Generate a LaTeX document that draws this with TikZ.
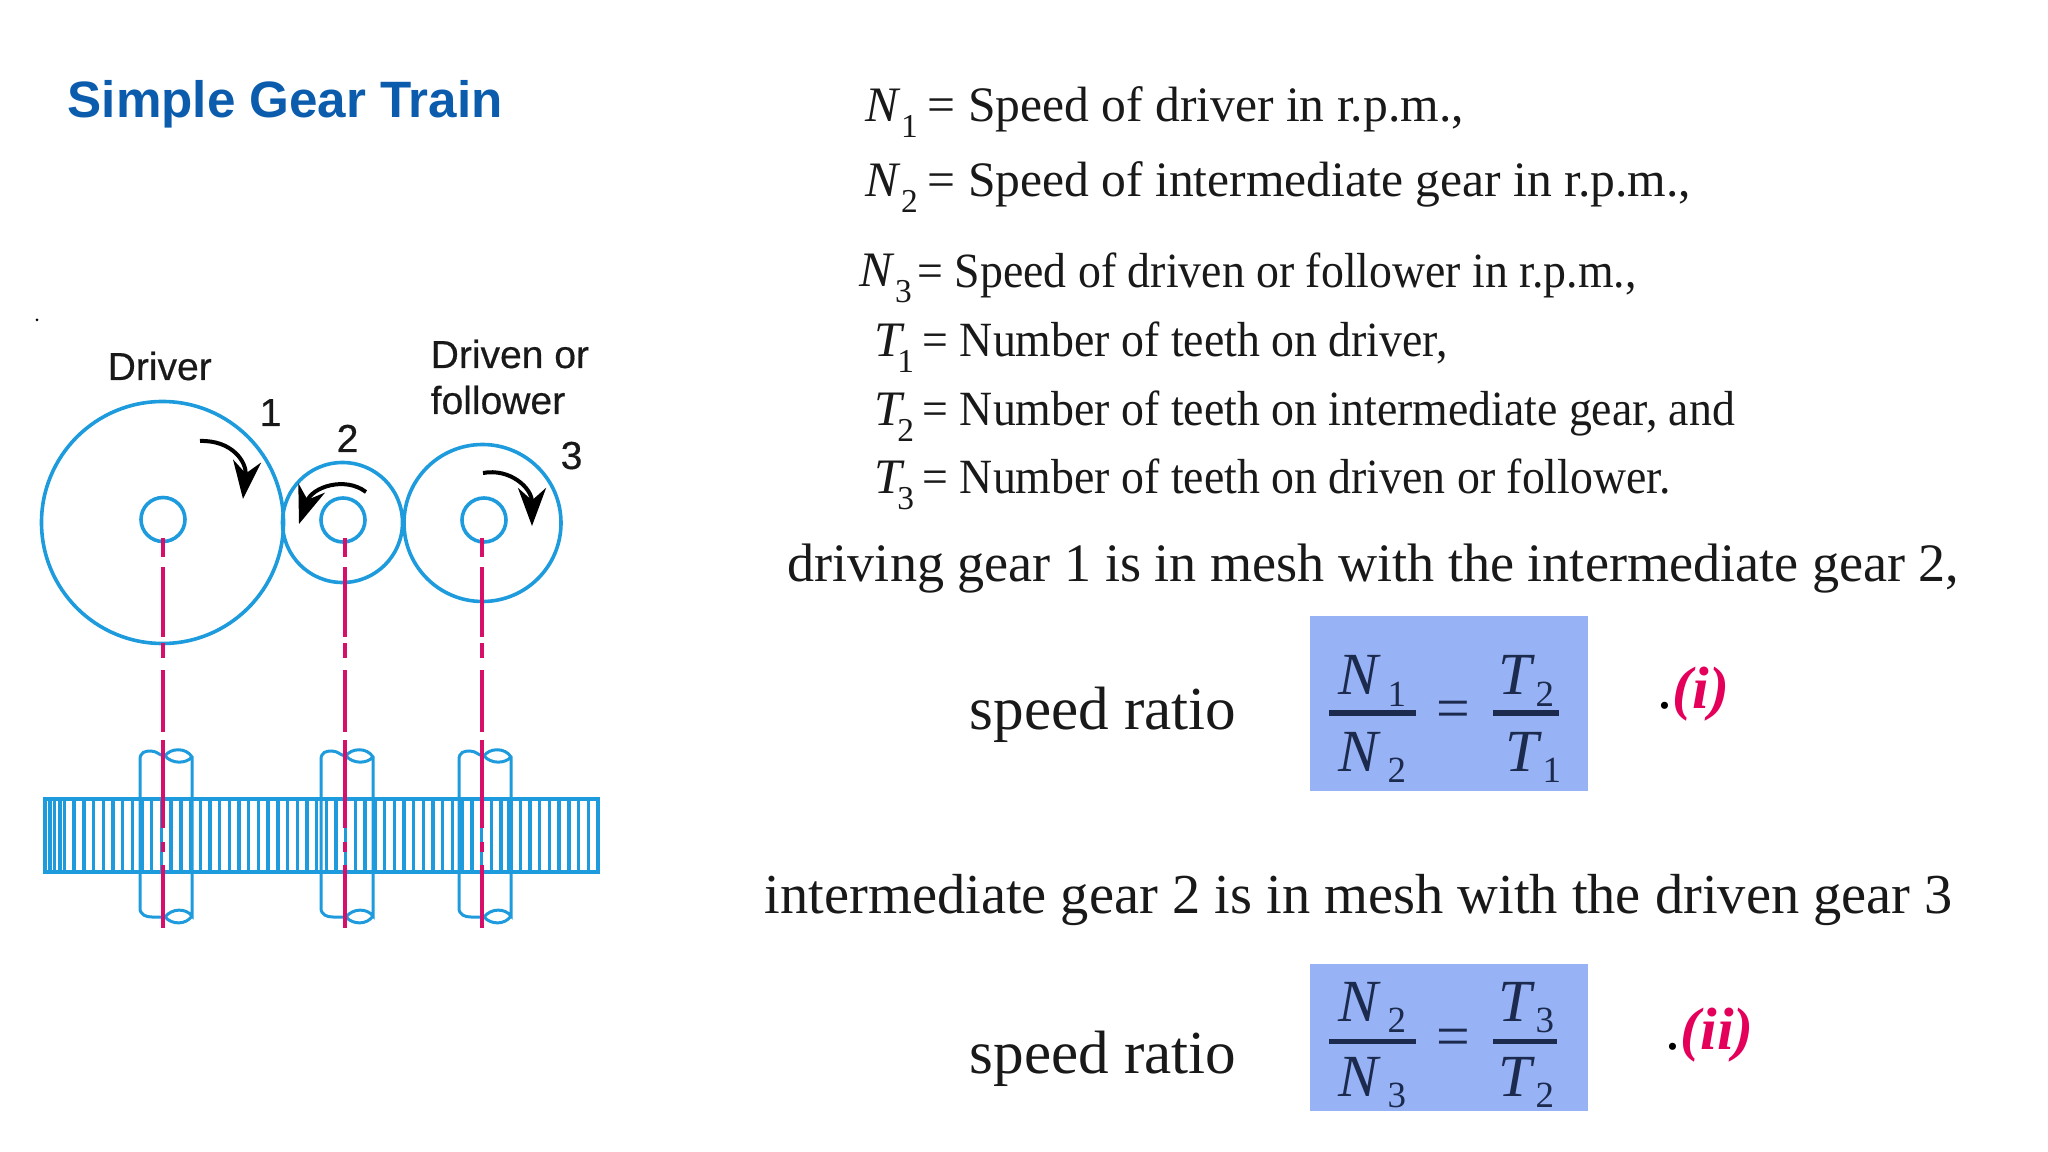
\documentclass[tikz,border=0pt]{standalone}
\usepackage{fontspec}
\setmainfont{Liberation Serif}
\newfontfamily\titleFont{Liberation Sans}
\newfontfamily\labelFont[FakeBold=.4]{Liberation Sans}
\newfontfamily\narrowFont[FakeStretch=.93]{Liberation Serif}
\usetikzlibrary{arrows.meta}
\definecolor{gearColor}{RGB}{30,155,220}
\definecolor{axisColor}{RGB}{214,16,106}
\definecolor{boxColor}{RGB}{151,179,245}
\definecolor{titleColor}{RGB}{11,92,173}
\definecolor{ratioInk}{RGB}{28,42,78}
\definecolor{tagColor}{RGB}{228,0,90}
\tikzstyle{sheet} = [x = .01cm, y = -.01cm]
\tikzstyle{gearLine} = [color=gearColor, line width=.036cm]
\tikzstyle{shaftLine} = [color=gearColor, line width=.03cm]
\tikzstyle{toothLine} = [color=gearColor, line width=.034cm]
\tikzstyle{axisLine} = [color=axisColor, line width=.04cm, dash pattern=on .19cm off .1cm on .7cm off .06cm on .15cm off .12cm on .62cm off .08cm on .88cm off .14cm on .1cm off .13cm on .63cm off .09cm on .03cm off .1cm]
\tikzstyle{turnArrow} = [black, line width=.04cm, -{Stealth[length=.38cm, width=.28cm]}]
\tikzstyle{gearText} = [font=\labelFont\fontsize{11.1}{13}\selectfont, inner sep=0, anchor=base west, text=black!90]
\tikzstyle{bodyText} = [font=\fontsize{14.1}{16}\selectfont, inner sep=0, anchor=base west, text=black!90]
\tikzstyle{narrowText} = [font=\narrowFont\fontsize{14}{16}\selectfont, inner sep=0, anchor=base west, text=black!90]
\tikzstyle{wideText} = [font=\fontsize{15.4}{18}\selectfont, inner sep=0, anchor=base west, text=black!90]
\tikzstyle{ratioText} = [font=\fontsize{17}{20}\selectfont, inner sep=0, anchor=base west, text=ratioInk]
\tikzstyle{fracBar} = [color=ratioInk, line width=.05cm]
\tikzstyle{tagText} = [font=\fontsize{17}{20}\selectfont\bfseries\itshape, inner sep=0, anchor=base west, text=tagColor]
\newcommand{\symSub}[2]{\textit{#1}\raisebox{-.32em}{\fontsize{9.5}{12}\selectfont #2}}
\newcommand{\ratioSub}[2]{\textit{#1}\raisebox{-.2em}{\fontsize{10.5}{12}\selectfont #2}}
\newcommand{\gear}[5]{
  \draw [gearLine] (#1, #2) circle [radius=#3];
  \draw [gearLine] (#4, #5) circle [radius=22];
}
\newcommand{\shaft}[1]{
  \draw [shaftLine] (#1, 762) -- (#1, 760) .. controls (#1, 752) and (#1 + 5, 751) .. (#1 + 11, 751) .. controls (#1 + 17, 751) and (#1 + 20, 756) .. (#1 + 25, 756) .. controls (#1 + 30, 748) and (#1 + 46, 747) .. (#1 + 52, 757) -- (#1 + 52, 910);
  \draw [shaftLine] (#1 + 25, 756) .. controls (#1 + 32, 764) and (#1 + 46, 764) .. (#1 + 52, 757);
  \draw [shaftLine] (#1, 762) -- (#1, 908) .. controls (#1, 915) and (#1 + 6, 917) .. (#1 + 12, 917) -- (#1 + 25, 917) .. controls (#1 + 32, 908) and (#1 + 46, 908) .. (#1 + 52, 916) -- (#1 + 52, 910);
  \draw [shaftLine] (#1 + 25, 917) .. controls (#1 + 32, 925) and (#1 + 46, 925) .. (#1 + 52, 916);
}
\newcommand{\ratioBox}[9]{
  \fill [boxColor] (1310, #1) rectangle (1588, #2);
  \node [ratioText] (numer#3) at (1338, #4) {\ratioSub{N}{\,#5}};
  \node [ratioText] (denom#3) at (1338, #8) {\ratioSub{N}{\,#6}};
  \draw [fracBar] (1329, #9) -- (1416, #9);
  \node [ratioText] (equal#3) at (1436, #9 + 15) {=};
  \node [ratioText] (upper#3) at (1498, #4) {\ratioSub{T}{#7}};
}
\begin{document}
\begin{tikzpicture}[sheet]
  \useasboundingbox (0, 0) rectangle (2048, 1152);
  \node [font=\titleFont\bfseries\fontsize{14.55}{17}\selectfont, text=titleColor, inner sep=0, anchor=base west] (title) at (67, 118) {Simple Gear Train};

  % gears seen from the front
  \gear{162.5}{522.5}{121}{163}{519.5}
  \gear{342.5}{522.5}{60}{343}{520}
  \gear{482.5}{523}{78.5}{484}{520}
  \fill (37, 320) circle [radius=1.5];
  \node [gearText] (driverLabel) at (107, 380) {Driver};
  \node [gearText] (drivenLabel) at (430, 368) {Driven or};
  \node [gearText] (followerLabel) at (430, 414) {follower};
  \node [gearText] (gearOne) at (259, 426) {1};
  \node [gearText] (gearTwo) at (336, 452) {2};
  \node [gearText] (gearThree) at (560, 469) {3};
  \draw [turnArrow] (200, 441) .. controls (232, 440) and (247, 462) .. (243, 499);
  \draw [turnArrow] (366, 492) .. controls (345, 476) and (312, 487) .. (299, 524);
  \draw [turnArrow] (483, 473) .. controls (510, 468) and (532, 488) .. (532, 526);

  % gears seen from the side
  \draw [toothLine, line width=.04cm] (45, 799) rectangle (598, 872);
  \foreach \tooth in {0,...,57} {
    \draw [toothLine] (45 + \tooth * 9.7, 799) -- + (0, 73);
  }
  \foreach \tooth in {50,60} {
    \draw [toothLine] (\tooth, 799) -- + (0, 73);
  }
  \fill [gearColor] (507, 799) rectangle + (6, 73);
  \shaft{140}
  \shaft{321}
  \shaft{459}
  \foreach \axis in {163,345,482} {
    \draw [axisLine] (\axis, 538) -- (\axis, 935);
  }

  % symbol list
  \node [bodyText] (listOne) at (865, 122) {\symSub{N}{1}};
  \node [bodyText] (textOne) at (927, 122) {= Speed of driver in r.p.m.,};
  \node [bodyText] (listTwo) at (865, 197) {\symSub{N}{2}};
  \node [bodyText] (textTwo) at (927, 197) {= Speed of intermediate gear in r.p.m.,};
  \node [bodyText] (listThree) at (859, 287) {\symSub{N}{3}};
  \node [narrowText] (textThree) at (917, 288) {= Speed of driven or follower in r.p.m.,};
  \node [bodyText] (listFour) at (874, 357) {\symSub{T\kern-.1em}{1}};
  \node [narrowText] (textFour) at (922, 357) {= Number of teeth on driver,};
  \node [bodyText] (listFive) at (874, 426) {\symSub{T\kern-.1em}{2}};
  \node [narrowText] (textFive) at (922, 426) {= Number of teeth on intermediate gear, and};
  \node [bodyText] (listSix) at (874, 494) {\symSub{T\kern-.1em}{3}};
  \node [narrowText] (textSix) at (922, 494) {= Number of teeth on driven or follower.};

  % ratios
  \node [wideText] (meshOne) at (787, 582) {driving gear 1 is in mesh with the intermediate gear 2,};
  \node [wideText, font=\fontsize{17.4}{20}\selectfont] (ratioOne) at (969, 729) {speed ratio};
  \ratioBox{616}{791}{One}{695}{1}{2}{2}{771}{713}
  \node [ratioText] (lowerOne) at (1505, 771) {\ratioSub{T}{1}};
  \draw [fracBar] (1493, 713) -- (1559, 713);
  \node [tagText] (tagOne) at (1657, 708) {\textcolor{black}{\normalfont .}(i)};

  \node [wideText, font=\fontsize{16.05}{18}\selectfont] (meshTwo) at (764, 913) {intermediate gear 2 is in mesh with the driven gear 3};
  \node [wideText, font=\fontsize{17.4}{20}\selectfont] (ratioTwo) at (969, 1073) {speed ratio};
  \ratioBox{964}{1111}{Two}{1021}{2}{3}{3}{1096}{1041}
  \node [ratioText] (lowerTwo) at (1498, 1096) {\ratioSub{T}{2}};
  \draw [fracBar] (1493, 1041) -- (1557, 1041);
  \node [tagText] (tagTwo) at (1665, 1049) {\textcolor{black}{\normalfont .}(ii)};
\end{tikzpicture}
\end{document}
